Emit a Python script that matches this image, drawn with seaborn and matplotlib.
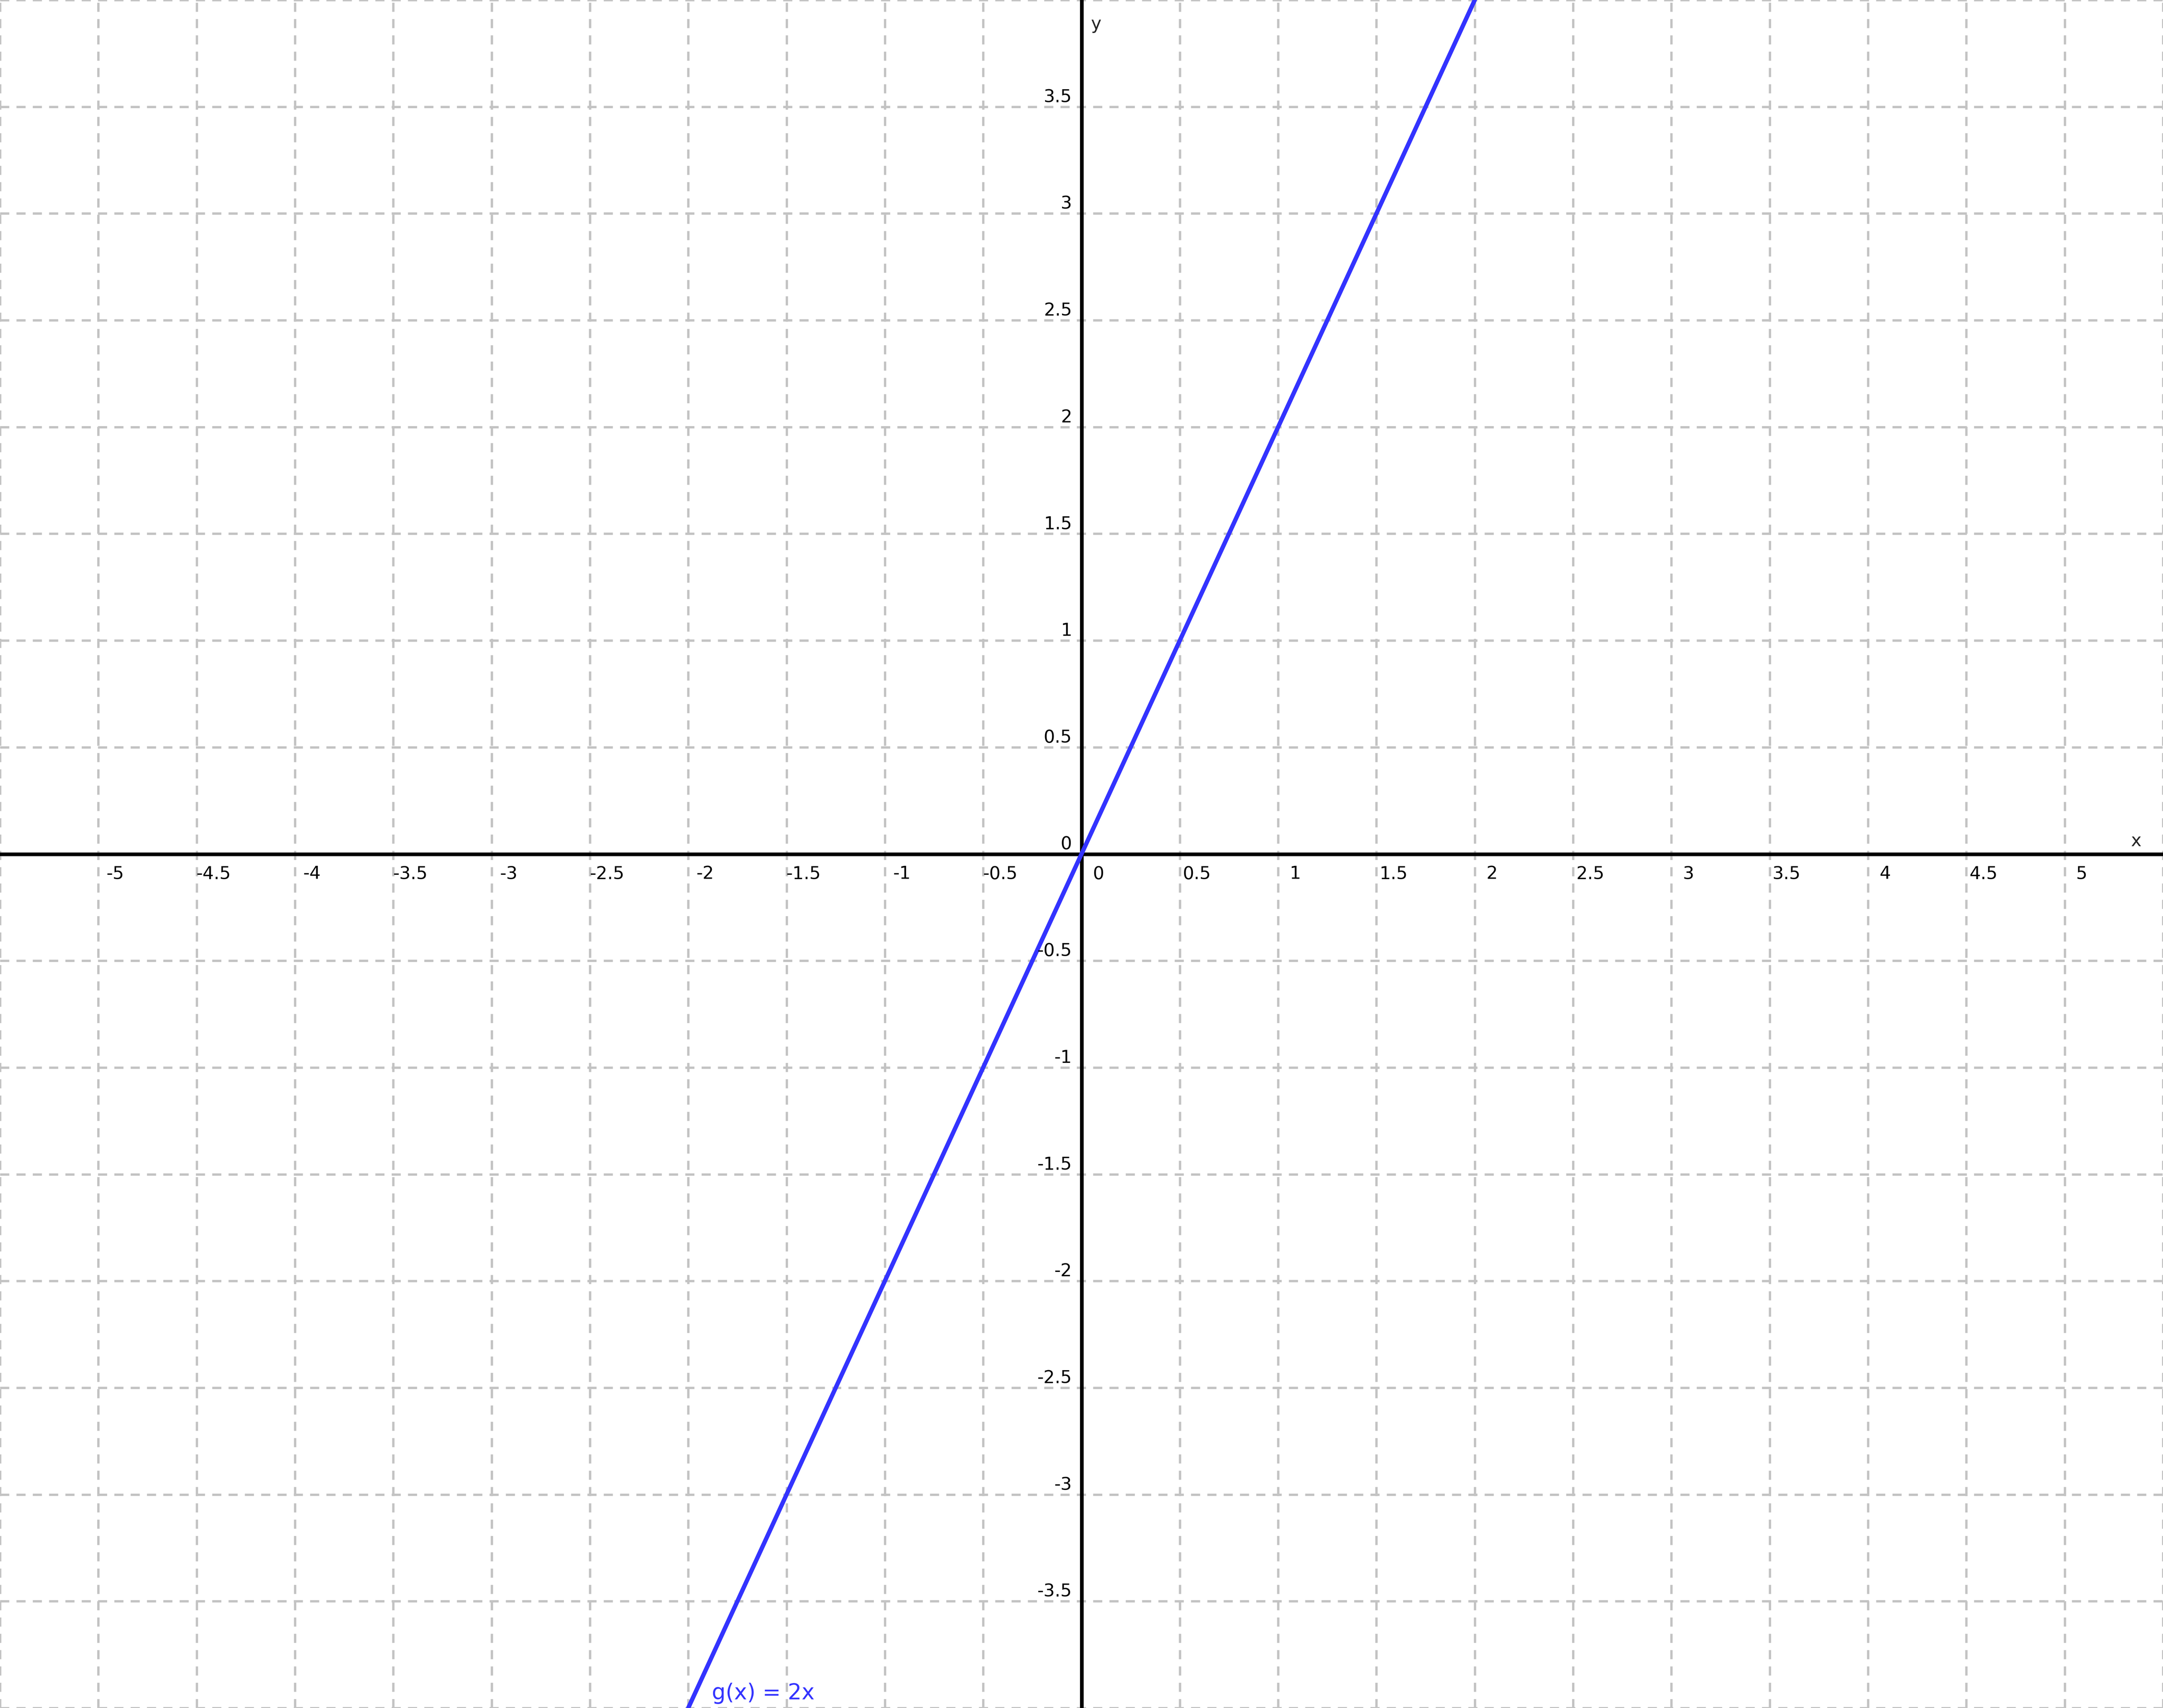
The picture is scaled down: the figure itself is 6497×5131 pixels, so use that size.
import numpy as np
import matplotlib
matplotlib.use("Agg")
import matplotlib.pyplot as plt
import matplotlib.transforms as mtransforms
import seaborn as sns

# ---- data ----
X_MIN, X_MAX = -5.5, 5.5
Y_MIN, Y_MAX = -4.0, 4.0
grid_x = [-5.5, -5, -4.5, -4, -3.5, -3, -2.5, -2, -1.5, -1, -0.5, 0,
          0.5, 1, 1.5, 2, 2.5, 3, 3.5, 4, 4.5, 5, 5.5]
grid_y = [-4, -3.5, -3, -2.5, -2, -1.5, -1, -0.5, 0, 0.5, 1, 1.5, 2, 2.5, 3, 3.5, 4]
xtick_vals = [-5, -4.5, -4, -3.5, -3, -2.5, -2, -1.5, -1, -0.5, 0,
              0.5, 1, 1.5, 2, 2.5, 3, 3.5, 4, 4.5, 5]
xtick_labels = ["-5", "-4.5", "-4", "-3.5", "-3", "-2.5", "-2", "-1.5", "-1", "-0.5", "0",
                "0.5", "1", "1.5", "2", "2.5", "3", "3.5", "4", "4.5", "5"]
ytick_vals = [-3.5, -3, -2.5, -2, -1.5, -1, -0.5, 0, 0.5, 1, 1.5, 2, 2.5, 3, 3.5]
ytick_labels = ["-3.5", "-3", "-2.5", "-2", "-1.5", "-1", "-0.5", "0",
                "0.5", "1", "1.5", "2", "2.5", "3", "3.5"]
# g(x) = 2x, endpoints where it leaves the view
line_x = [-2, 2]
line_y = [-4, 4]
func_label = "g(x) = 2x"
func_label_pos = (-1.88, -3.96)

DPI = 400
def px(v):
    # pixels at 400 dpi -> points
    return v * 72.0 / DPI

sns.set_theme(style="white")
plt.rcParams['font.family'] = ['DejaVu Sans']
plt.rcParams['axes.unicode_minus'] = False

fig = plt.figure(figsize=(6497 / DPI, 5131 / DPI), dpi=DPI)
ax = fig.add_axes([0, 0, 1, 1])
ax.set_facecolor("white")

BLUE = "#3333ff"
sns.lineplot(x=line_x, y=line_y, color=BLUE, linewidth=px(13), ax=ax, zorder=3)

ax.set_xlim(X_MIN, X_MAX)
ax.set_ylim(Y_MIN, Y_MAX)

# axes through origin
for side in ["top", "right"]:
    ax.spines[side].set_visible(False)
ax.spines["left"].set_position(("data", 0))
ax.spines["bottom"].set_position(("data", 0))
for side in ["left", "bottom"]:
    ax.spines[side].set_linewidth(px(11))
    ax.spines[side].set_color("black")

ax.set_xticks(grid_x)
ax.set_yticks(grid_y)
ax.tick_params(axis="both", direction="out", length=px(22), width=px(11),
               color="black", labelbottom=False, labelleft=False)
ax.set_axisbelow(True)
ax.grid(True, color="#c3c3c3", linewidth=px(7), linestyle=(0, (3.9, 3.1)))

# tick labels
fs = 9.6
for v, lab in zip(xtick_vals, xtick_labels):
    tr = mtransforms.offset_copy(ax.transData, fig=fig, x=px(51), y=-px(75), units="points")
    ax.text(v, 0, lab, transform=tr, ha="center", va="baseline", fontsize=fs,
            color="black", zorder=5)
for v, lab in zip(ytick_vals, ytick_labels):
    tr = mtransforms.offset_copy(ax.transData, fig=fig, x=-px(29), y=px(14), units="points")
    ax.text(0, v, lab, transform=tr, ha="right", va="baseline", fontsize=fs,
            color="black", zorder=5)

# axis names
tr = mtransforms.offset_copy(ax.transData, fig=fig, x=0, y=px(23), units="points")
ax.text(5.337, 0, "x", transform=tr, ha="left", va="baseline", fontsize=fs, zorder=5)
tr = mtransforms.offset_copy(ax.transData, fig=fig, x=px(28), y=-px(88), units="points")
ax.text(0, Y_MAX, "y", transform=tr, ha="left", va="baseline", fontsize=fs, zorder=5)

# function label
ax.text(func_label_pos[0], func_label_pos[1], func_label, color=BLUE,
        ha="left", va="baseline", fontsize=11.8, zorder=5)

fig.savefig("out.png", dpi=DPI, facecolor="white")
